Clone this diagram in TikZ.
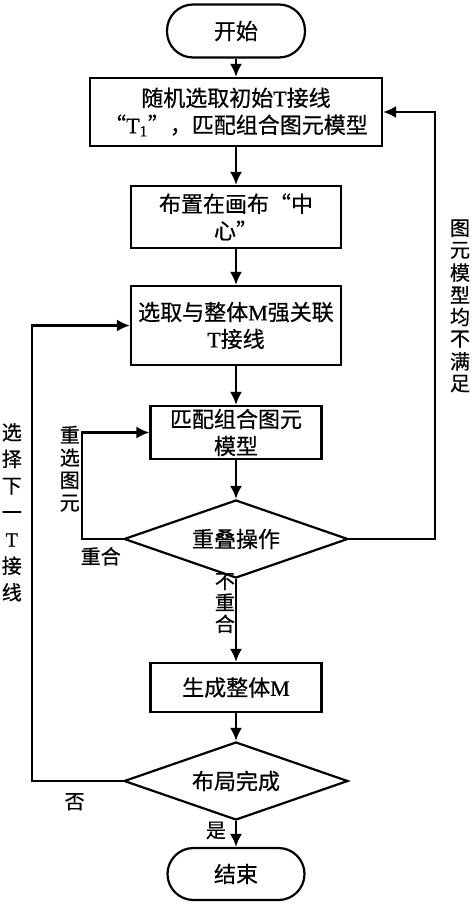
\documentclass[tikz,border=0pt]{standalone}
\usepackage{fontspec}
\setmainfont{Noto Sans CJK SC}[FakeBold=0.6]
\newfontfamily\latin{Liberation Serif}[FakeBold=0.6]
\usetikzlibrary{shapes.geometric,arrows.meta}

\begin{document}
\begin{tikzpicture}[x=1pt,y=-1pt,line width=2.2pt,
  >={Latex[length=13pt,width=12pt]},
  font=\fontsize{22}{27}\selectfont,
  box/.style={draw,rectangle,inner sep=0pt,align=center},
  term/.style={draw,rectangle,rounded corners=26pt,minimum width=138pt,minimum height=53pt},
  decide/.style={draw,diamond,aspect=2.9,inner sep=0pt,minimum width=224pt,minimum height=78pt},
  lbl/.style={font=\fontsize{20}{22}\selectfont,align=center,inner sep=0pt}]
\useasboundingbox (0,0) rectangle (474,904);
\node[term] (start) at (236,31) {开始};
\node[box,minimum width=292pt,minimum height=68pt] (pick) at (236,112) {随机选取初始{\latin T}接线\\“{\latin T\textsubscript{1}}”，匹配组合图元模型};
\node[box,minimum width=210pt,minimum height=62pt] (place) at (236,217) {布置在画布“中\\心”};
\node[box,minimum width=210pt,minimum height=79pt] (sel) at (236,325.5) {选取与整体{\latin M}强关联\\{\latin T}接线};
\node[box,minimum width=171pt,minimum height=53pt] (match) at (236,432.5) {匹配组合图元\\模型};
\node[decide] (overlap) at (236,539) {重叠操作};
\node[box,minimum width=171pt,minimum height=49pt] (gen) at (236,687.5) {生成整体{\latin M}};
\node[decide] (done) at (236,781) {布局完成};
\node[term,minimum width=137pt,minimum height=52pt] (stop) at (236,874) {结束};
\draw[->] (start) -- (pick);
\draw[->] (pick) -- (place);
\draw[->] (place) -- (sel);
\draw[->] (sel) -- (match);
\draw[->] (match) -- (overlap);
\draw[->] (overlap) -- (gen) node[lbl,pos=0.29,left=0pt,font=\fontsize{20}{21.5}\selectfont] {不\\重\\合};
\draw[->] (gen) -- (done);
\draw[->] (done) -- (stop) node[lbl,pos=0.36,left=9pt] {是};
\draw[->] (overlap.east) -- ++(86,0) |- (pick.east);
\foreach \c [count=\i] in {图,元,模,型,均,不,满,足}
  \node[lbl] (fail\i) at (460,{206+22.2*\i}) {\c};
\draw[->] (overlap.west) -- node[lbl,pos=0.54,below=7pt] {重合} ++(-41,0) |- (match.west) node[lbl,pos=0.33,left=1pt,font=\fontsize{20}{22.5}\selectfont] {重\\选\\图\\元};
\draw[->] (done.west) -- node[lbl,pos=0.53,below=11pt] {否} ++(-91,0) |- (sel.west) node[lbl,pos=0.295,left=9pt,font=\fontsize{20}{26.7}\selectfont] {选\\择\\下\\一\\{\latin T}\\接\\线};
\end{tikzpicture}
\end{document}
